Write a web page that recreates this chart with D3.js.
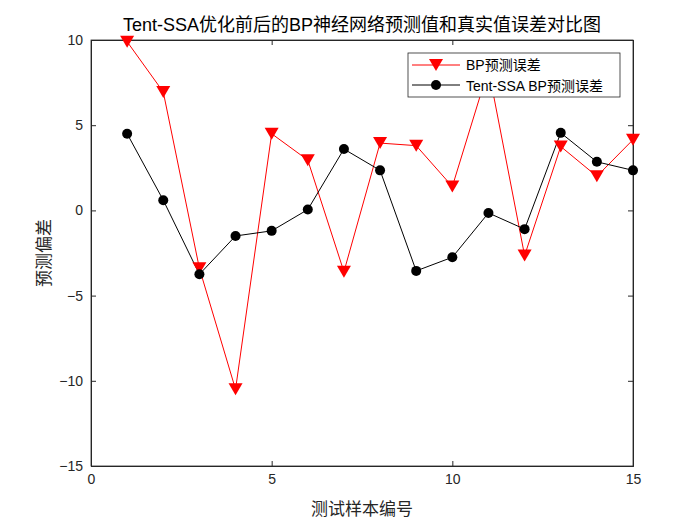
<!DOCTYPE html>
<html><head><meta charset="utf-8">
<script src="https://cdn.jsdelivr.net/npm/d3@7"></script>
<style>body{margin:0;background:#fff}</style></head>
<body><svg id="c" width="700" height="525"></svg>
<script>
const samples = d3.range(1,16);
const bpErr = [9.9,6.95,-3.4,-10.5,4.5,2.95,-3.6,3.95,3.8,1.4,8.3,-2.65,3.75,2.0,4.15];
const ssaErr = [4.5,0.6,-3.75,-1.5,-1.2,0.05,3.6,2.35,-3.55,-2.75,-0.15,-1.1,4.55,2.85,2.35];
const xTicks = [0,5,10,15];
const yTicks = [-15,-10,-5,0,5,10];
const svg = d3.select("#c");
const L=91,R=633,T=40,B=466;
const x = d3.scaleLinear().domain([0,15]).range([L,R]);
const y = d3.scaleLinear().domain([-15,10]).range([B,T]);
const font="Arial, 'Liberation Sans', 'Noto Sans CJK SC', sans-serif";
svg.append("rect").attr("x",L).attr("y",T).attr("width",R-L).attr("height",B-T).attr("fill","#fff").attr("stroke","#262626").attr("stroke-width",0.8);
const gx = svg.append("g").attr("transform",`translate(0,${B})`).call(d3.axisBottom(x).tickValues(xTicks).tickSize(-5).tickPadding(8));
const gxt = svg.append("g").attr("transform",`translate(0,${T})`).call(d3.axisTop(x).tickValues(xTicks).tickSize(-5).tickFormat(""));
const gy = svg.append("g").attr("transform",`translate(${L},0)`).call(d3.axisLeft(y).tickValues(yTicks).tickSize(-5).tickPadding(8));
const gyr = svg.append("g").attr("transform",`translate(${R},0)`).call(d3.axisRight(y).tickValues(yTicks).tickSize(-5).tickFormat(""));
[gx,gxt,gy,gyr].forEach(g=>{g.select(".domain").attr("stroke","#262626");g.selectAll("line").attr("stroke","#262626");g.selectAll("text").attr("font-size",14).attr("font-family",font).attr("fill","#262626");});
const line = d3.line().x((d,i)=>x(samples[i])).y(d=>y(d));
svg.append("path").datum(bpErr).attr("d",line).attr("fill","none").attr("stroke","#f00").attr("stroke-width",1);
svg.append("path").datum(ssaErr).attr("d",line).attr("fill","none").attr("stroke","#000").attr("stroke-width",1);
const tri = (cx,cy)=>`M${cx-7},${cy-6}L${cx+7},${cy-6}L${cx},${cy+6}Z`;
svg.selectAll(".t").data(bpErr).join("path").attr("d",(d,i)=>tri(x(samples[i]),y(d))).attr("fill","#f00");
svg.selectAll(".c").data(ssaErr).join("circle").attr("cx",(d,i)=>x(samples[i])).attr("cy",d=>y(d)).attr("r",5).attr("fill","#000");
const lg = svg.append("g");
lg.append("rect").attr("x",408).attr("y",53).attr("width",212).attr("height",44).attr("fill","#fff").attr("stroke","#262626").attr("stroke-width",0.8);
lg.append("line").attr("x1",412).attr("x2",460).attr("y1",65).attr("y2",65).attr("stroke","#f00");
lg.append("path").attr("d",tri(436,65)).attr("fill","#f00");
lg.append("line").attr("x1",412).attr("x2",460).attr("y1",85).attr("y2",85).attr("stroke","#000");
lg.append("circle").attr("cx",436).attr("cy",85).attr("r",5).attr("fill","#000");
lg.append("text").attr("x",466).attr("y",70).text("BP预测误差").attr("font-size",14).attr("font-family",font);
lg.append("text").attr("x",466).attr("y",91).text("Tent-SSA BP预测误差").attr("font-size",14).attr("font-family",font);
svg.append("text").attr("x",(L+R)/2).attr("y",31).attr("text-anchor","middle").attr("font-size",18).attr("font-family",font).attr("fill","#000").text("Tent-SSA优化前后的BP神经网络预测值和真实值误差对比图");
svg.append("text").attr("x",(L+R)/2).attr("y",515).attr("text-anchor","middle").attr("font-size",17).attr("font-family",font).attr("fill","#262626").text("测试样本编号");
svg.append("text").attr("transform",`translate(50,${(T+B)/2}) rotate(-90)`).attr("text-anchor","middle").attr("font-size",17).attr("font-family",font).attr("fill","#262626").text("预测偏差");
</script></body></html>
